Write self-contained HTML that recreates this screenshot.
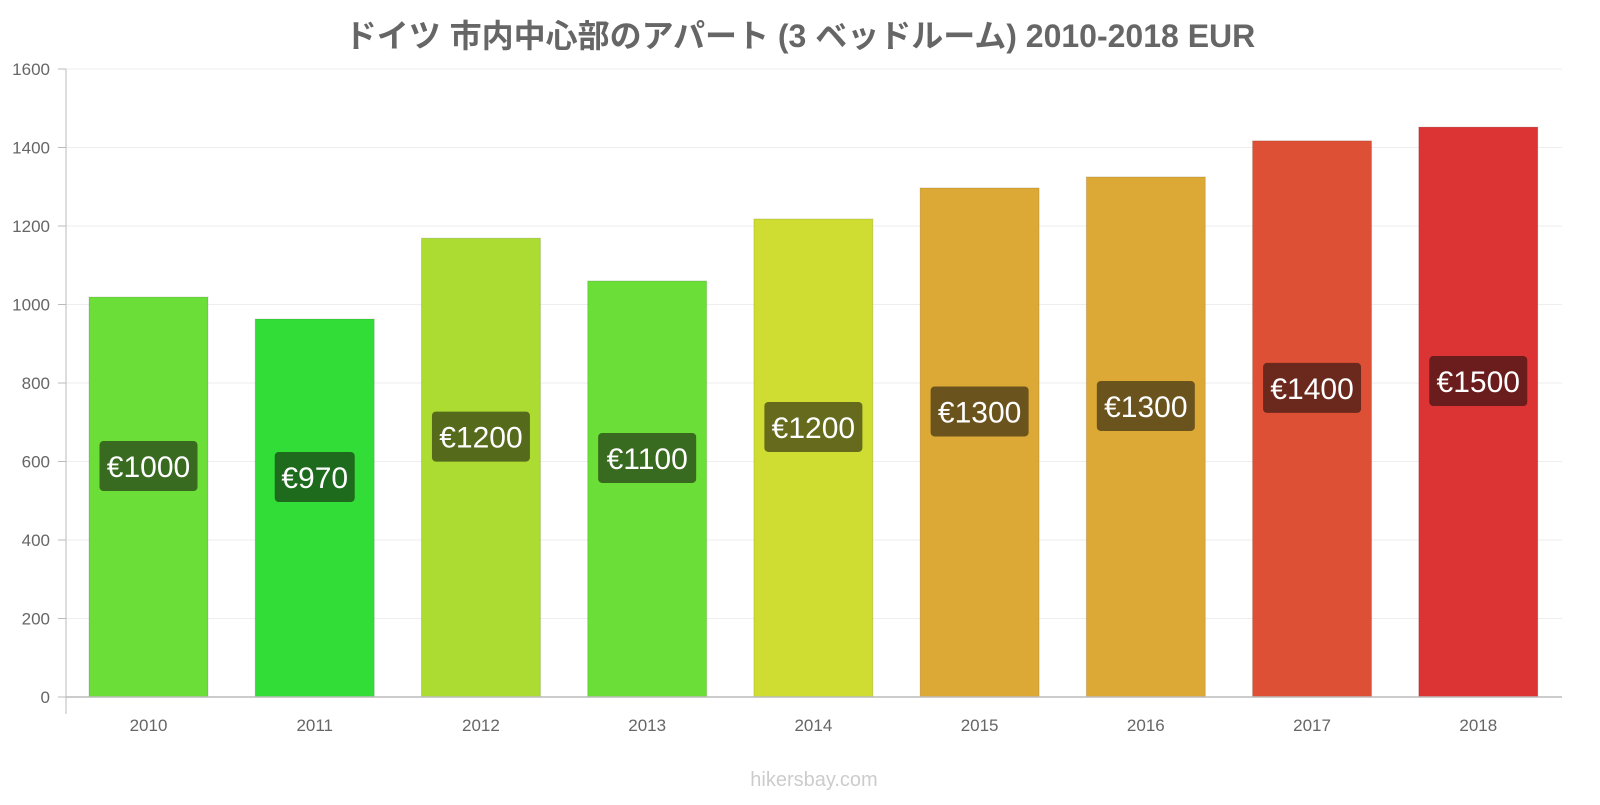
<!DOCTYPE html>
<html><head><meta charset="utf-8">
<style>
body{margin:0;background:#fff;width:1600px;height:800px;overflow:hidden;font-family:"Liberation Sans","Noto Sans CJK JP",sans-serif;}
</style></head>
<body>
<svg id="chart" width="1600" height="800" xmlns="http://www.w3.org/2000/svg" font-family="Liberation Sans, Noto Sans CJK JP, sans-serif">
<text x="800" y="47" text-anchor="middle" font-size="32" font-weight="bold" fill="#666">ドイツ 市内中心部のアパート (3 ベッドルーム) 2010-2018 EUR</text>
<g id="grid"></g><g id="bars"></g><g id="labels"></g><g id="axes"></g>
<text x="814" y="786" text-anchor="middle" font-size="20" fill="#ccc">hikersbay.com</text>
</svg>
<script>
const categories=["2010","2011","2012","2013","2014","2015","2016","2017","2018"];
const values=[1019,963,1169,1060,1218,1297,1325,1417,1452];
const valueLabels=["€1000","€970","€1200","€1100","€1200","€1300","€1300","€1400","€1500"];
const yTicks=[0,200,400,600,800,1000,1200,1400,1600];
const barColors=["#6bdf37","#33dd37","#acdc32","#6bdf37","#cfdc32","#dda936","#dda936","#dd5035","#dc3434"];
const labelColors=["#386a1f","#1e6b1e","#566a1c","#386a1f","#656a1c","#6b531d","#6b531d","#6b291d","#6b1d1d"];
const NS="http://www.w3.org/2000/svg";
const x0=66,x1=1562,yBase=697,yTop=69,maxV=1600;
const y=v=>yBase-(v/maxV)*(yBase-yTop);
const band=(x1-x0)/categories.length;
const xb=i=>x0+i*band;
function mk(t,a,p){const e=document.createElementNS(NS,t);for(const k in a)e.setAttribute(k,a[k]);p.appendChild(e);return e;}
const grid=document.getElementById('grid'),bars=document.getElementById('bars'),labels=document.getElementById('labels'),axes=document.getElementById('axes');
yTicks.forEach(v=>{
  const l=mk('line',{x1:x0,x2:x1,y1:y(v),y2:y(v),stroke:'#eee'},grid);
  
  
  const t=mk('text',{x:50,y:y(v)+6,'text-anchor':'end','font-size':17,fill:'#666'},axes);
  t.textContent=v;
  
  
  const tk=mk('line',{x1:58,x2:66,y1:y(v),y2:y(v),stroke:'#bbb'},axes);
  
  
});
const ya=mk('line',{x1:x0,x2:x0,y1:yTop,y2:714,stroke:'#bbb'},axes);


const xa=mk('line',{x1:x0,x2:x1,y1:yBase,y2:yBase,stroke:'#bbb','stroke-width':1.5},axes);


categories.forEach((c,i)=>{
  const bx=xb(i)+23,bw=119,top=y(values[i]);
  const r=mk('rect',{x:bx,y:top,width:bw,height:yBase-top,fill:barColors[i],stroke:'rgba(0,0,0,0.12)'},bars);
  
  
  const cx=bx+bw/2,cy=(top+yBase)/2-31;
  const w=valueLabels[i].length>4?98:80;
  const lb=mk('rect',{x:cx-w/2,y:cy-25,width:w,height:50,rx:4,fill:labelColors[i]},labels);
  
  
  const lt=mk('text',{x:cx,y:cy+11,'text-anchor':'middle','font-size':30,fill:'#fff'},labels);
  lt.textContent=valueLabels[i];
  
  
  const xt=mk('text',{x:cx,y:731,'text-anchor':'middle','font-size':17,fill:'#666'},axes);
  xt.textContent=c;
  
  
});
</script>
</body></html>
